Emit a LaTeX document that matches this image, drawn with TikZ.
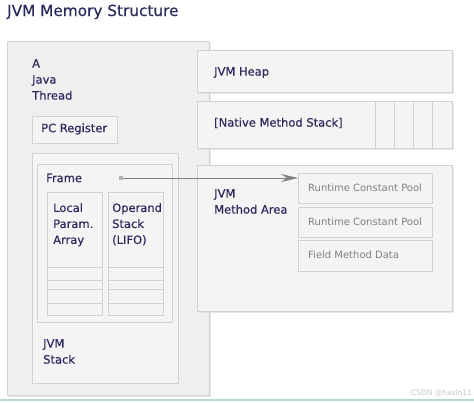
\documentclass[tikz,border=0pt]{standalone}
\usepackage{fontspec}
\setmainfont{DejaVu Sans}
\newfontfamily\labelfont{DejaVu Sans}[FakeBold=0.35]
\usetikzlibrary{arrows.meta,shadows,calc}

\begin{document}
\begin{tikzpicture}[x=1pt, y=-1pt,
    box/.style={draw=boxline, fill=boxfill, line width=0.8pt, anchor=north west, inner sep=0pt},
    shadowbox/.style={box, drop shadow={shadow xshift=1.2pt, shadow yshift=-1.4pt, fill=black!16}},
    txt/.style={text=navy, anchor=north west, inner sep=0pt, align=left, font=\labelfont\fontsize{11.5}{16}\selectfont},
    greytxt/.style={text=greytext, anchor=west, inner sep=0pt, font=\fontsize{10}{12}\selectfont},
    cellline/.style={draw=boxline, line width=0.7pt}]
    % Define colors
    \definecolor{navy}{RGB}{42,42,92}
    \definecolor{boxline}{RGB}{212,209,209}
    \definecolor{boxfill}{RGB}{245,243,243}
    \definecolor{threadfill}{RGB}{239,239,239}
    \definecolor{greytext}{RGB}{128,128,128}
    \definecolor{arrowgrey}{RGB}{128,128,128}
    \definecolor{tealline}{RGB}{183,214,204}

    \useasboundingbox[fill=white] (0,0) rectangle (474,402);

    % Title
    \node[text=navy, anchor=base west, inner sep=0pt, font=\labelfont\fontsize{15.3}{18}\selectfont] (title) at (7,16) {JVM Memory Structure};

    % Java thread with its stack
    \node[shadowbox, fill=threadfill, minimum width=202, minimum height=354] (thread) at (7,41) {};
    \node[txt] (threadtxt) at (32,59) {A\\Java\\Thread};
    \node[box, minimum width=85, minimum height=27] (pcreg) at (32,116) {};
    \node[txt, anchor=west] (pctxt) at (41,129) {PC Register};
    \node[box, minimum width=146, minimum height=230] (stack) at (32,153) {};
    \node[txt] (stacktxt) at (43,339) {JVM\\Stack};

    % Frame with its two columns
    \node[box, minimum width=135, minimum height=158] (frame) at (37,164) {};
    \node[txt, anchor=west] (frametxt) at (46,178) {Frame};
    \node[box, minimum width=55, minimum height=123] (local) at (47,192) {};
    \node[box, minimum width=55, minimum height=123] (operand) at (108,192) {};
    \foreach \y in {267,280,289,303} {
        \draw[cellline] (47,\y) -- (102,\y);
        \draw[cellline] (108,\y) -- (163,\y);
    }
    \node[txt] (localtxt) at (53,203) {Local\\Param.\\Array};
    \node[txt] (operandtxt) at (112,203) {Operand\\Stack\\(LIFO)};

    % Heap and native method stack
    \node[shadowbox, minimum width=255, minimum height=42] (heap) at (197,50) {};
    \node[txt] (heaptxt) at (214,67) {JVM Heap};
    \node[shadowbox, minimum width=255, minimum height=47] (native) at (197,101) {};
    \foreach \x in {375,394,413,432} {
        \draw[cellline] (\x,101) -- (\x,148);
    }
    \node[txt, anchor=west] (nativetxt) at (214,123) {[Native Method Stack]};

    % Method area
    \node[shadowbox, minimum width=255, minimum height=146] (method) at (197,165) {};
    \node[txt] (methodtxt) at (214,189) {JVM\\Method Area};
    \node[box, minimum width=134, minimum height=30] (rcp1) at (298,173) {};
    \node[box, minimum width=134, minimum height=30] (rcp2) at (298,207) {};
    \node[box, minimum width=134, minimum height=31] (fmd) at (298,240) {};
    \node[greytxt] (rcp1txt) at (308,188) {Runtime Constant Pool};
    \node[greytxt] (rcp2txt) at (308,222) {Runtime Constant Pool};
    \node[greytxt] (fmdtxt) at (308,255) {Field Method Data};

    % Frame points to the constant pool
    \coordinate (frameport) at (121,178);
    \draw[arrowgrey, line width=1pt, -{Stealth[length=17pt, width=8pt, inset=6pt]}] (frameport) -- (frameport -| rcp1.west);
    \fill[arrowgrey!60] ($(frameport)+(-1.8,-1.8)$) rectangle ($(frameport)+(1.8,1.8)$);

    % Watermark and bottom strip
    \node[text=black!22, anchor=east, inner sep=0pt, font=\fontsize{7.5}{9}\selectfont] (mark) at (472,393) {CSDN @hxsln11};
    \draw[tealline, line width=1.6pt] (0,400) -- (474,400);
\end{tikzpicture}
\end{document}
